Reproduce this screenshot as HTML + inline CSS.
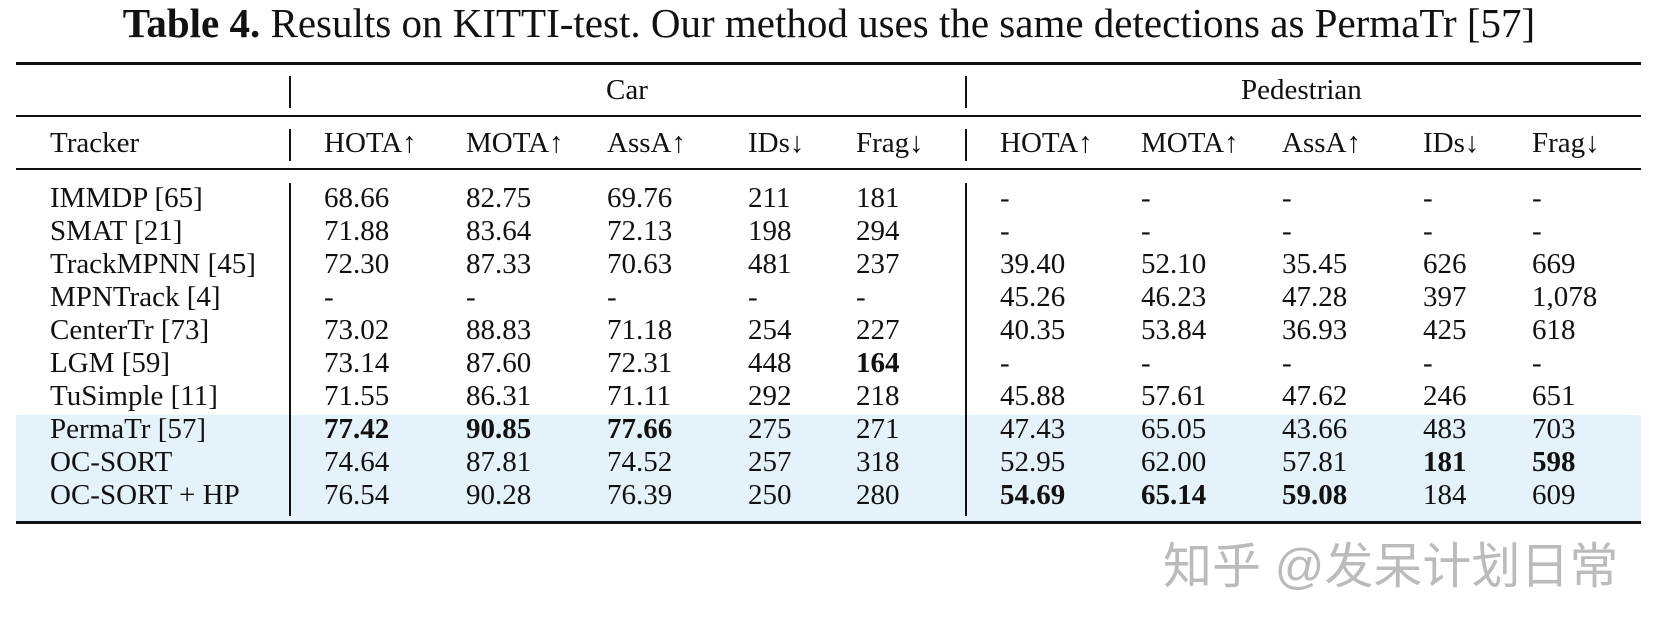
<!DOCTYPE html>
<html><head><meta charset="utf-8"><style>
html,body{margin:0;padding:0;background:#fff;}
body{width:1658px;height:639px;position:relative;overflow:hidden;font-family:"Liberation Serif",serif;color:#111;}
.t{position:absolute;font-size:29px;white-space:nowrap;line-height:1;}
.b{font-weight:bold;}
.rule{position:absolute;left:16px;width:1625px;background:#111;}
.vbar{position:absolute;width:2px;background:#111;}
</style></head><body>
<div style="position:absolute;left:0;width:1658px;top:3px;text-align:center;font-size:41px;line-height:1;"><b>Table 4.</b> Results on KITTI-test. Our method uses the same detections as PermaTr [57]</div>
<div style="position:absolute;left:16px;top:415px;width:1625px;height:106px;background:#e4f2fa;"></div>
<div class="rule" style="top:62px;height:3px;"></div>
<div class="rule" style="top:115px;height:2px;"></div>
<div class="rule" style="top:168px;height:2px;"></div>
<div class="rule" style="top:521px;height:3px;"></div>
<div class="vbar" style="left:289px;top:76px;height:32px;"></div>
<div class="vbar" style="left:965px;top:76px;height:32px;"></div>
<div class="vbar" style="left:289px;top:129px;height:32px;"></div>
<div class="vbar" style="left:965px;top:129px;height:32px;"></div>
<div class="vbar" style="left:289px;top:183px;height:333px;"></div>
<div class="vbar" style="left:965px;top:183px;height:333px;"></div>
<div class="t" style="left:606px;top:76px;">Car</div>
<div class="t" style="left:1241px;top:76px;">Pedestrian</div>
<div id="tbl"></div>
<div style="position:absolute;left:1163px;top:543px;font-size:49px;color:#bbb;font-family:'Liberation Sans','Noto Sans CJK SC',sans-serif;white-space:nowrap;line-height:1;">知乎 @发呆计划日常</div>
<script>
const headers=["Tracker","HOTA↑","MOTA↑","AssA↑","IDs↓","Frag↓","HOTA↑","MOTA↑","AssA↑","IDs↓","Frag↓"];
const trackers=["IMMDP [65]","SMAT [21]","TrackMPNN [45]","MPNTrack [4]","CenterTr [73]","LGM [59]","TuSimple [11]","PermaTr [57]","OC-SORT","OC-SORT + HP"];
const carVals=[["68.66","82.75","69.76","211","181"],["71.88","83.64","72.13","198","294"],["72.30","87.33","70.63","481","237"],["-","-","-","-","-"],["73.02","88.83","71.18","254","227"],["73.14","87.60","72.31","448","*164"],["71.55","86.31","71.11","292","218"],["*77.42","*90.85","*77.66","275","271"],["74.64","87.81","74.52","257","318"],["76.54","90.28","76.39","250","280"]];
const pedVals=[["-","-","-","-","-"],["-","-","-","-","-"],["39.40","52.10","35.45","626","669"],["45.26","46.23","47.28","397","1,078"],["40.35","53.84","36.93","425","618"],["-","-","-","-","-"],["45.88","57.61","47.62","246","651"],["47.43","65.05","43.66","483","703"],["52.95","62.00","57.81","*181","*598"],["*54.69","*65.14","*59.08","184","609"]];
const colX=[50,324,466,607,748,856,1000,1141,1282,1423,1532];
const tbl=document.getElementById('tbl');
function add(txt,x,y,name){
  const d=document.createElement('div');
  d.className='t';
  if(txt[0]==='*'){txt=txt.slice(1);d.classList.add('b');}
  d.textContent=txt;d.style.left=x+'px';d.style.top=y+'px';
  
  
  tbl.appendChild(d);
}
headers.forEach((h,i)=>add(h,colX[i],129,'column-header'));
trackers.forEach((t,r)=>{
  const y=184+r*33;
  add(t,colX[0],y,'tracker-name');
  carVals[r].forEach((v,i)=>add(v,colX[1+i],y,'car-cell'));
  pedVals[r].forEach((v,i)=>add(v,colX[6+i],y,'pedestrian-cell'));
});
</script>
</body></html>
